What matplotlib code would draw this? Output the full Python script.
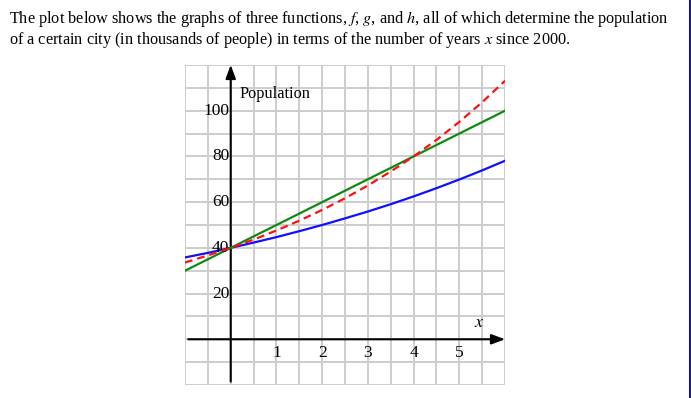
import matplotlib
matplotlib.use("Agg")
import matplotlib.pyplot as plt
from matplotlib.lines import Line2D

plt.rcParams['font.family'] = ['Liberation Serif', 'DejaVu Serif']
plt.rcParams['mathtext.fontset'] = 'stix'

# values
years = [-1, -0.5, 0, 0.5, 1, 1.5, 2, 2.5, 3, 3.5, 4, 4.5, 5, 5.5, 6]
blue_pop = [35.8, 37.8, 40, 42.3, 44.7, 47.3, 50, 52.9, 55.9, 59.1, 62.5, 66.1, 69.9, 73.9, 78.1]
red_pop = [33.6, 36.7, 40, 43.6, 47.6, 51.9, 56.6, 61.7, 67.3, 73.4, 80, 87.2, 95.1, 103.7, 113.1]
green_pop = [30, 35, 40, 45, 50, 55, 60, 65, 70, 75, 80, 85, 90, 95, 100]
x_ticks = [1, 2, 3, 4, 5]
y_ticks = [20, 40, 60, 80, 100]

fig = plt.figure(figsize=(6.91, 3.98), dpi=100)
fig.text(9/691, 1 - 19/398, r"The plot below shows the graphs of three functions, $f$, $g$, and $h$, all of which determine the population",
         fontsize=11.7, va='center', ha='left')
fig.text(9/691, 1 - 40/398, r"of a certain city (in thousands of people) in terms of the number of years $x$ since 2000.",
         fontsize=11.7, va='center', ha='left')
fig.add_artist(Line2D([689.5/691, 689.5/691], [0, 1], color='#1a1a8c', lw=1.5))

ax = fig.add_axes([185/691, 13/398, 320/691, 320/398])
ax.set_xlim(-1, 6)
ax.set_ylim(-20, 120)
for s in ax.spines.values():
    s.set_visible(False)
ax.set_xticks([])
ax.set_yticks([])
gx = [-1 + 0.5 * i for i in range(15)]
gy = [-20 + 10 * i for i in range(15)]
for v in gx:
    ax.axvline(v, color='#cdcdcd', lw=1.4, zorder=0)
for v in gy:
    ax.axhline(v, color='#cdcdcd', lw=1.4, zorder=0)

ax.annotate('', xy=(0, 120), xytext=(0, -18.5),
            arrowprops=dict(arrowstyle='-|>,head_length=0.8,head_width=0.3', color='black', lw=1.5, shrinkA=0, shrinkB=0))
ax.annotate('', xy=(6.0, 0), xytext=(-0.93, 0),
            arrowprops=dict(arrowstyle='-|>,head_length=0.8,head_width=0.3', color='black', lw=1.5, shrinkA=0, shrinkB=0))

ax.plot(years, blue_pop, color='#1010ff', lw=1.6, zorder=3)
ax.plot(years, green_pop, color='#118811', lw=1.6, zorder=3)
ax.plot(years, red_pop, color='#ff1010', lw=1.6, ls=(0, (3.5, 2.2)), zorder=4)

for t in y_ticks:
    ax.text(-0.03, t, str(t), ha='right', va='center', fontsize=12.5)
for t in x_ticks:
    ax.text(t, -6, str(t), ha='center', va='center', fontsize=12.5)
ax.text(0.2, 107.5, "Population", ha='left', va='center', fontsize=11.7)
ax.text(5.43, 7.5, r"$x$", ha='center', va='center', fontsize=13)

fig.savefig("out.png", dpi=100)
